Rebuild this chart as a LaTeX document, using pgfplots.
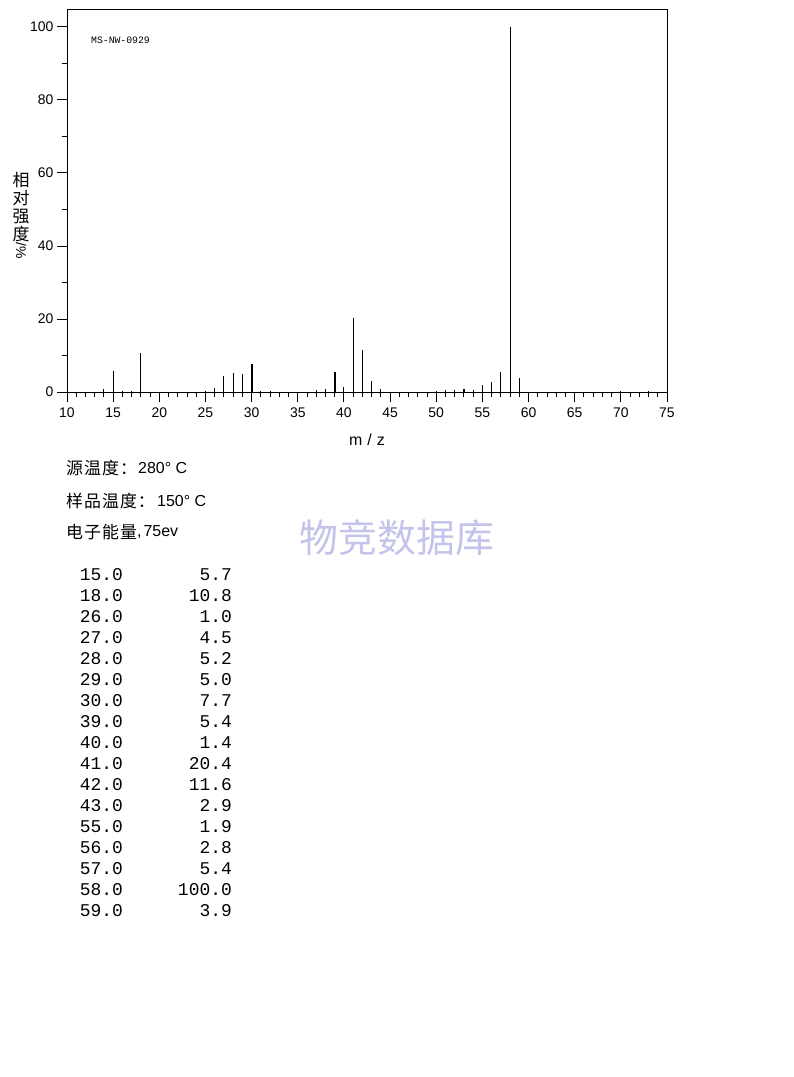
\documentclass[border=0pt]{standalone}
\usepackage{pgfplots}
\pgfplotsset{compat=1.18}
\usepackage{fontspec}
\setmainfont{Liberation Sans}
\newfontfamily\cjk{Noto Sans CJK SC}
\newfontfamily\mono{Liberation Mono}
\definecolor{watermark}{RGB}{196,196,234}

\begin{document}
\begin{tikzpicture}
\path[use as bounding box, fill=white] (0,0) rectangle (794bp,-1077bp);

\begin{axis}[
    at={(67bp,-392bp)}, anchor=south west,
    scale only axis, width=600bp, height=383bp,
    xmin=10, xmax=75, ymin=0, ymax=104.93,
    xtick={10,15,...,75}, minor x tick num=4,
    ytick={0,20,...,100}, minor y tick num=1,
    tick pos=left, tick align=outside,
    major tick length=10bp, minor tick length=5bp,
    every tick/.style={black, line width=1bp},
    axis line style={line width=1bp},
    tick label style={font=\fontsize{14}{16}\selectfont},
    xticklabel style={yshift=-2bp},
    /pgf/number format/assume math mode=true,
    clip=false,
]
% minor peaks and the main list
\addplot[ycomb, no marks, black, line width=1bp] coordinates {
    (14,0.7)(15,5.7)(16,0.4)(17,0.4)(18,10.8)(25,0.4)(26,1.0)(27,4.5)
    (28,5.2)(29,5.0)(31,0.4)(32,0.4)(37,0.6)(38,0.9)(40,1.4)(41,20.4)
    (42,11.6)(43,2.9)(44,0.7)(50,0.4)(51,0.6)(52,0.6)(54,0.6)(55,1.9)
    (56,2.8)(57,5.4)(58,100.0)(59,3.9)(70,0.3)(73,0.3)
};
% wider lines
\addplot[ycomb, no marks, black, line width=2bp] coordinates {
    (30,7.7)(39,5.4)(53,0.7)
};
\end{axis}

\node[anchor=west, inner sep=0, font=\mono\fontsize{9.8}{11}\selectfont] at (91bp,-40bp) {MS-NW-0929};

\node[anchor=north, inner sep=0, align=center, font=\cjk\fontsize{17}{18}\selectfont]
    at (21bp,-172bp) {相\\对\\强\\度};
\node[anchor=north, inner sep=0, font=\fontsize{14}{16}\selectfont]
    at (21bp,-242bp) {\rotatebox{-90}{/\%}};

\node[font=\fontsize{16}{18}\selectfont] at (367bp,-440bp) {m\kern5bp/\kern5bp z};

\node[anchor=west, inner sep=0, font=\cjk\fontsize{17}{18}\selectfont] at (66bp,-468bp) {源\kern1bp 温\kern1bp 度\kern1bp ：};
\node[anchor=west, inner sep=0, font=\fontsize{16}{18}\selectfont] at (138bp,-468bp) {280°\ C};
\node[anchor=west, inner sep=0, font=\cjk\fontsize{17}{18}\selectfont] at (66bp,-501bp) {样\kern1bp 品\kern1bp 温\kern1bp 度\kern1bp ：};
\node[anchor=west, inner sep=0, font=\fontsize{16}{18}\selectfont] at (157bp,-501bp) {150°\ C};
\node[anchor=west, inner sep=0, font=\cjk\fontsize{17}{18}\selectfont] at (66bp,-532bp) {电\kern1bp 子\kern1bp 能\kern1bp 量};
\node[anchor=west, inner sep=0, font=\fontsize{16}{18}\selectfont] at (137bp,-532bp) {,\kern2bp 75ev};

\node[font=\cjk\fontsize{39}{41}\selectfont, text=watermark] at (397bp,-538bp) {物竞数据库};

\foreach \m/\v [count=\i from 0] in {15.0/5.7,18.0/10.8,26.0/1.0,27.0/4.5,28.0/5.2,29.0/5.0,
    30.0/7.7,39.0/5.4,40.0/1.4,41.0/20.4,42.0/11.6,43.0/2.9,55.0/1.9,56.0/2.8,57.0/5.4,
    58.0/100.0,59.0/3.9} {
  \node[anchor=east, inner sep=0, font=\mono\fontsize{18}{20}\selectfont] at (123bp,-575bp-\i*21bp) {\m};
  \node[anchor=east, inner sep=0, font=\mono\fontsize{18}{20}\selectfont] at (232bp,-575bp-\i*21bp) {\v};
}
\end{tikzpicture}
\end{document}
